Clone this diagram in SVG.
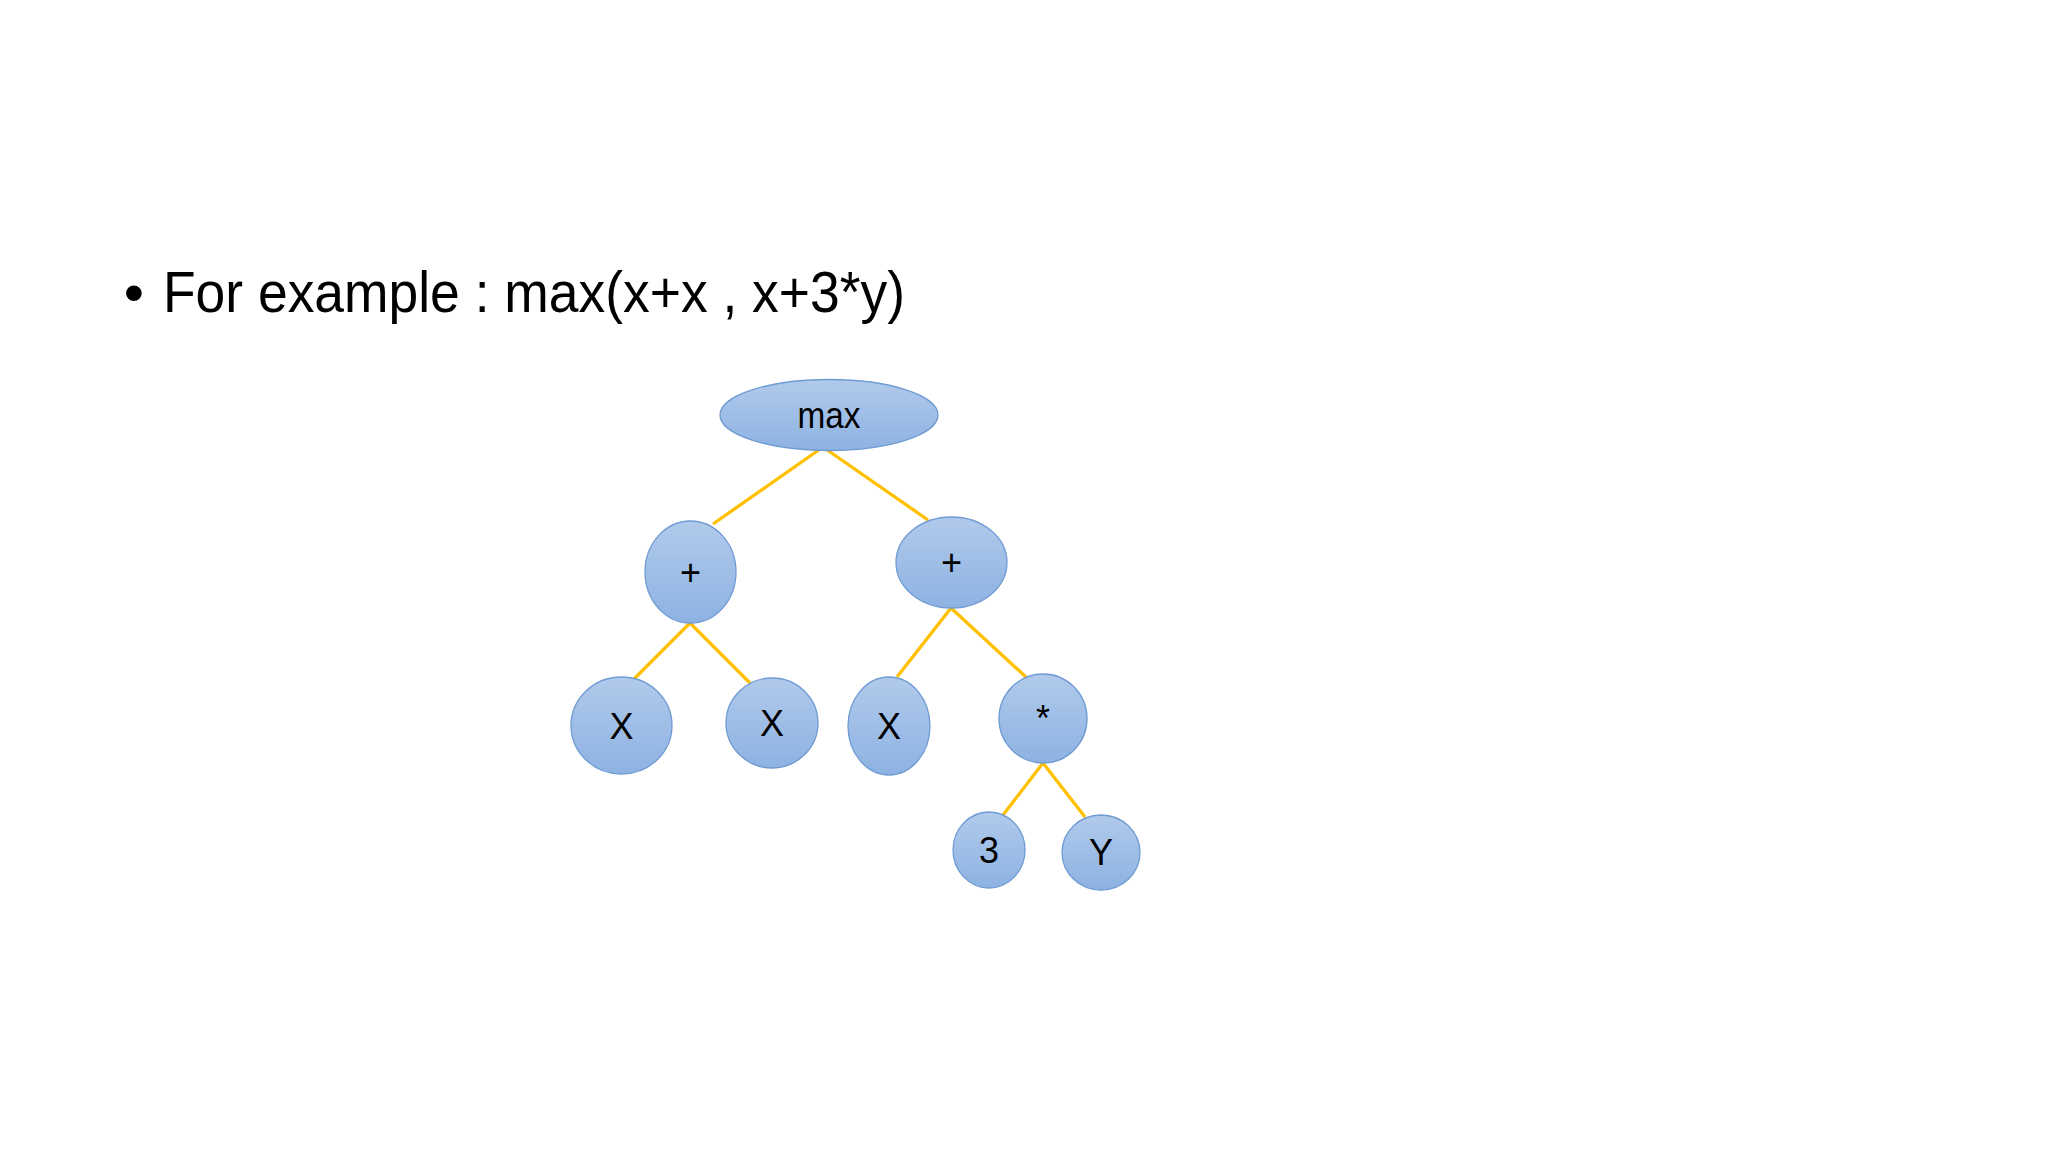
<svg xmlns="http://www.w3.org/2000/svg" width="2048" height="1152" viewBox="0 0 2048 1152">
<defs>
<linearGradient id="g" x1="0" y1="0" x2="0" y2="1">
<stop offset="0" stop-color="#b1caeb"/>
<stop offset="1" stop-color="#8db2e2"/>
</linearGradient>
<style>
.n{fill:url(#g);stroke:#6f9bd3;stroke-width:1.3}
.t{font-family:"Liberation Sans",Arial,sans-serif;font-size:36px;fill:#000;text-anchor:middle}
.e{stroke:#ffc000;stroke-width:3.3;fill:none}
.h{font-family:"Liberation Sans",Arial,sans-serif;font-size:58px;fill:#000}
</style>
</defs>
<rect width="2048" height="1152" fill="#fff"/>
<g id="title">
<text class="h" x="134" y="312" text-anchor="middle">•</text>
<text class="h" x="163" y="312" textLength="742" lengthAdjust="spacingAndGlyphs">For example : max(x+x , x+3*y)</text>
</g>
<g id="connectors">
<line class="e" x1="823" y1="447" x2="713" y2="524"/>
<line class="e" x1="823" y1="447" x2="928" y2="520"/>
<line class="e" x1="690" y1="623" x2="634" y2="679"/>
<line class="e" x1="690" y1="623" x2="750" y2="683"/>
<line class="e" x1="951" y1="608" x2="897" y2="677"/>
<line class="e" x1="951" y1="608" x2="1026" y2="677"/>
<line class="e" x1="1043" y1="763" x2="1003" y2="815"/>
<line class="e" x1="1043" y1="763" x2="1085" y2="817"/>
</g>
<g id="node-max"><ellipse class="n" cx="829" cy="415" rx="109" ry="35.5"/><text class="t" x="829" y="428" textLength="63" lengthAdjust="spacingAndGlyphs">max</text></g>
<g id="node-plus1"><ellipse class="n" cx="690.5" cy="572" rx="45.5" ry="51"/><text class="t" x="690.5" y="585">+</text></g>
<g id="node-plus2"><ellipse class="n" cx="951.5" cy="562.5" rx="55.5" ry="45.5"/><text class="t" x="951.5" y="575">+</text></g>
<g id="node-x1"><ellipse class="n" cx="621.5" cy="725.5" rx="50.5" ry="48.5"/><text class="t" x="621.5" y="739">X</text></g>
<g id="node-x2"><ellipse class="n" cx="772" cy="723" rx="46" ry="45"/><text class="t" x="772" y="736">X</text></g>
<g id="node-x3"><ellipse class="n" cx="889" cy="726" rx="41" ry="49"/><text class="t" x="889" y="739">X</text></g>
<g id="node-mul"><ellipse class="n" cx="1043" cy="718.5" rx="44" ry="44.5"/><text class="t" x="1043" y="731">*</text></g>
<g id="node-3"><ellipse class="n" cx="989" cy="850" rx="36" ry="38"/><text class="t" x="989" y="863">3</text></g>
<g id="node-y"><ellipse class="n" cx="1101" cy="852.5" rx="39" ry="37.5"/><text class="t" x="1101" y="865">Y</text></g>
</svg>
